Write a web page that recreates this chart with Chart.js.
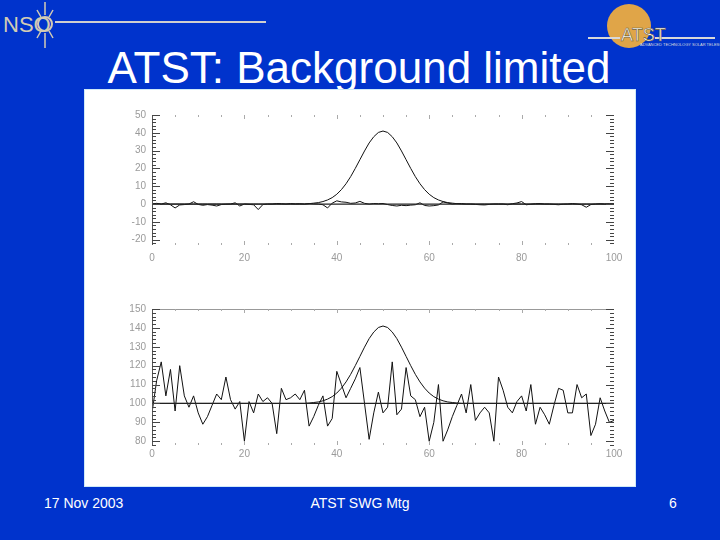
<!DOCTYPE html>
<html>
<head>
<meta charset="utf-8">
<script src="https://cdn.jsdelivr.net/npm/chart.js@4.4.1/dist/chart.umd.min.js"></script>
<style>
  html,body{margin:0;padding:0}
  body{width:720px;height:540px;background:#0033cc;position:relative;overflow:hidden;font-family:'Liberation Sans',Arial,sans-serif}
  .title{position:absolute;left:0;width:718px;top:46px;text-align:center;color:#fff;font-size:44px;line-height:44px}
  .foot{position:absolute;top:495px;color:#fff;font-size:14px;line-height:17px}
  .panel{position:absolute;left:84px;top:89px;width:550px;height:396px;background:#fff;border:1px solid #cfe9f7}
  canvas{position:absolute}
</style>
</head>
<body>
<!-- logos -->
<svg width="720" height="60" style="position:absolute;left:0;top:0">
  <text x="3" y="32" font-family="Liberation Sans" font-size="22" fill="#d2cbb4">NSO</text>
  <circle cx="45" cy="24" r="7" fill="none" stroke="#d2cbb4" stroke-width="2"/>
  <path d="M45 2 L45 15 M45 33 L45 48 M37 10 L41 17 M53 10 L49 17 M37 38 L41 31 M53 38 L49 31" stroke="#d2cbb4" stroke-width="1.5"/>
  <line x1="55" y1="22" x2="266" y2="22" stroke="#cfcfcf" stroke-width="2"/>
  <circle cx="629" cy="26" r="22" fill="#e0a548"/>
  <line x1="588" y1="38" x2="620" y2="38" stroke="#d8d8d8" stroke-width="2"/>
  <line x1="655" y1="38" x2="715" y2="38" stroke="#d8d8d8" stroke-width="2"/>
  <text x="621" y="41" font-family="Liberation Sans" font-size="18" fill="#fff" stroke="#6b5a30" stroke-width="0.6">ATST</text>
  <text x="640" y="46" font-family="Liberation Sans" font-size="4" fill="#ddd">ADVANCED TECHNOLOGY SOLAR TELESCOPE</text>
</svg>
<div class="title">ATST: Background limited</div>
<div class="panel"></div>
<canvas id="top" width="552" height="175" style="left:84px;top:95px;width:552px;height:175px"></canvas>
<canvas id="bot" width="552" height="185" style="left:84px;top:290px;width:552px;height:185px"></canvas>
<div class="foot" style="left:44px">17 Nov 2003</div>
<div class="foot" style="left:0;width:720px;text-align:center">ATST SWG Mtg</div>
<div class="foot" style="left:669px">6</div>
<script>
// ── data ──
const XS=[0,1,2,3,4,5,6,7,8,9,10,11,12,13,14,15,16,17,18,19,20,21,22,23,24,25,26,27,28,29,30,31,32,33,34,35,36,37,38,39,40,41,42,43,44,45,46,47,48,49,50,
  51,52,53,54,55,56,57,58,59,60,61,62,63,64,65,66,67,68,69,70,71,72,73,74,75,76,77,78,79,80,81,82,83,84,85,86,87,88,89,90,91,92,93,94,95,96,97,98,99,100];
// upper panel: model line and residual noise
const TOP_MODEL=[0,0,0,0,0,0,0,0,0,0,0,0,0,0,0,0,0,0,0,0,0,0,0,0,0,0,0,0,0,0,0,0,0,0,0.2,0.5,0.8,1.4,2.3,3.6,5.5,8.1,11.4,15.4,20.0,24.9,29.8,34.3,37.8,40.2,41,
  40.2,37.8,34.3,29.8,24.9,20.0,15.4,11.4,8.1,5.5,3.6,2.3,1.4,0.8,0.5,0.2,0,0,0,0,0,0,0,0,0,0,0,0,0,0,0,0,0,0,0,0,0,0,0,0,0,0,0,0,0,0,0,0,0,0];
const TOP_NOISE=[0,0.4,0,0.7,-0.4,-2.2,-0.5,-0.3,0,1.3,-0.2,-0.7,-0.3,-0.6,-1.1,-0.3,-0.1,0,0.7,-1.1,0,-0.2,-0.4,-3.1,-0.3,0,0,0.3,0.2,0,0.3,0.1,0.2,0,0.3,0.1,0,-0.4,-2.2,0.5,1.8,
  1.2,1.0,0.4,0.6,1.5,0.4,0,0.3,0.2,0.3,-0.3,-0.8,-1.1,-0.7,-0.9,-0.6,-0.4,0.7,-0.8,-1.1,-0.9,-0.5,1.2,0.6,0,0.2,0.3,0,0,-0.2,
  -0.4,-0.5,-0.2,0,0,0,-0.4,0.2,0.6,1.4,-0.4,-0.1,0.2,0.3,0,0,-0.2,-0.4,-0.1,0,0.3,0,-0.4,-1.8,-0.3,0,0.2,0,0.1,0];
// lower panel: same model on a background of 100, noisy data
const BOT_MODEL=[100,100,100,100,100,100,100,100,100,100,100,100,100,100,100,100,100,100,100,100,100,100,100,100,100,100,100,100,100,100,100,100,100,100,
  100.2,100.5,100.8,101.4,102.3,103.6,105.5,108.1,111.4,115.4,120.0,124.9,129.8,134.3,137.8,140.2,141,
  140.2,137.8,134.3,129.8,124.9,120.0,115.4,111.4,108.1,105.5,103.6,102.3,101.4,100.8,100.5,100.2,
  100,100,100,100,100,100,100,100,100,100,100,100,100,100,100,100,100,100,100,100,100,100,100,100,100,100,100,100,100,100,100,100,100,100];
const BOT_NOISE=[95,112,122,104,118,96,120,104,98,104,95,89,93,99,105,102,114,102,97,101,80,101,95,105,101,103,100,84,108,102,103,
  105,102,107,88,93,99,104,88,92,117,110,103,108,113,119,100,81,95,106,95,98,122,94,97,119,104,102,93,98,80,
  90,110,80,86,93,99,105,95,110,91,95,98,95,80,114,107,98,95,101,104,96,110,89,98,94,89,99,108,107,95,
  95,110,103,105,83,89,103,96,90,91];
const BASE_X=[0,100];
const TOP_BASE=[0,0];
const BOT_BASE=[100,100];
const X_TICKS=[0,20,40,60,80,100];
const TOP_YTICKS=[-20,-10,0,10,20,30,40,50];
const BOT_YTICKS=[80,90,100,110,120,130,140,150];

const pts=(xs,ys)=>xs.map((x,i)=>({x,y:ys[i]}));

// IDL-style axes: inward ticks on both sides, faint top/bottom
const idlAxes={
  id:'idlAxes',
  afterDraw(chart,args,o){
    const {ctx,chartArea:a,scales:{x,y}}=chart;
    ctx.save();
    ctx.lineWidth=1;
    ctx.strokeStyle='#555';
    ctx.beginPath();ctx.moveTo(a.left+0.5,a.top);ctx.lineTo(a.left+0.5,a.bottom);ctx.stroke();
    if(o.topLine){ctx.strokeStyle=o.topLine;ctx.beginPath();ctx.moveTo(a.left,a.top+0.5);ctx.lineTo(a.right,a.top+0.5);ctx.stroke();}
    ctx.strokeStyle='#444';
    ctx.beginPath();
    y.ticks.forEach(t=>{const p=Math.round(y.getPixelForValue(t.value))+0.5;
      ctx.moveTo(a.left,p);ctx.lineTo(a.left+8,p);ctx.moveTo(a.right,p);ctx.lineTo(a.right-8,p);});
    for(let v=Math.ceil(y.min/2)*2;v<=y.max;v+=2){const p=Math.round(y.getPixelForValue(v))+0.5;
      ctx.moveTo(a.left,p);ctx.lineTo(a.left+4,p);ctx.moveTo(a.right,p);ctx.lineTo(a.right-4,p);}
    ctx.stroke();
    ctx.strokeStyle='#aaa';
    ctx.beginPath();
    for(let v=5;v<100;v+=5){const p=Math.round(x.getPixelForValue(v))+0.5,l=v%20===0?4:2;
      ctx.moveTo(p,a.top);ctx.lineTo(p,a.top+l);ctx.moveTo(p,a.bottom);ctx.lineTo(p,a.bottom-l);}
    ctx.stroke();
    ctx.restore();
  }
};

function makePanel(id,model,noise,base,yMin,yMax,yTicks,pad,xH,xPad,topLine){
  const line=(data,c,w)=>({data,borderColor:c,borderWidth:w,pointRadius:0,fill:false,tension:0});
  return new Chart(document.getElementById(id),{
    type:'line',
    data:{datasets:[line(pts(BASE_X,base),'#222',1.2),line(pts(XS,noise),'#111',1),line(pts(XS,model),'#111',1)]},
    options:{responsive:false,animation:false,events:[],
      layout:{padding:{top:pad,right:22,left:0,bottom:0}},
      plugins:{legend:{display:false},tooltip:{enabled:false},idlAxes:{topLine}},
      scales:{
        x:{type:'linear',min:0,max:100,grid:{display:false,drawTicks:false},border:{display:false},
          afterBuildTicks:s=>{s.ticks=X_TICKS.map(v=>({value:v}));},
          afterFit:s=>{s.height=xH;},
          ticks:{padding:xPad,color:'#9a9a9a',font:{family:'Liberation Sans',size:10},maxRotation:0}},
        y:{min:yMin,max:yMax,grid:{display:false,drawTicks:false},border:{display:false},
          afterBuildTicks:s=>{s.ticks=yTicks.map(v=>({value:v}));},
          afterFit:s=>{s.width=68;},
          ticks:{padding:6,color:'#9a9a9a',font:{family:'Liberation Sans',size:10}}}
      }},
    plugins:[idlAxes]
  });
}

makePanel('top',TOP_MODEL,TOP_NOISE,TOP_BASE,-23,50,TOP_YTICKS,20,25,7,null);
makePanel('bot',BOT_MODEL,BOT_NOISE,BOT_BASE,78,150,BOT_YTICKS,19,30,3,'#999');
</script>
</body>
</html>
